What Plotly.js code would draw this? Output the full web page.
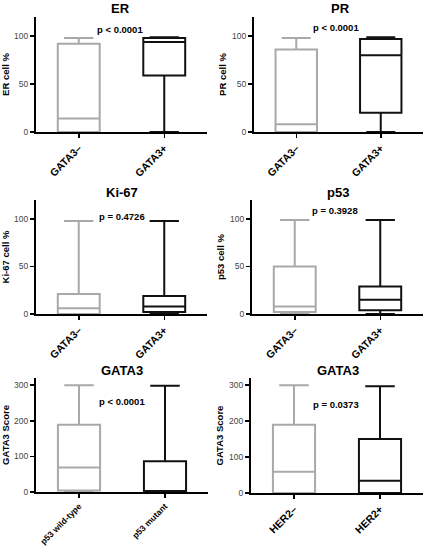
<!DOCTYPE html>
<html>
<head>
<meta charset="utf-8">
<script src="https://cdn.plot.ly/plotly-3.0.1.min.js"></script>
<style>html,body{margin:0;padding:0;background:#fff;}#chart{width:427px;height:550px;}</style>
</head>
<body>
<div id="chart"></div>
<script>
// ---- Data ----
const panelTitles = ["ER", "PR", "Ki-67", "p53", "GATA3", "GATA3"];
const yTitles = ["ER cell %", "PR cell %", "Ki-67 cell %", "p53 cell %", "GATA3 Score", "GATA3 Score"];
const pValues = ["p < 0.0001", "p < 0.0001", "p = 0.4726", "p = 0.3928", "p < 0.0001", "p = 0.0373"];

const catsGATA3 = ["GATA3–", "GATA3+"];
const catsP53 = ["p53 wild-type", "p53 mutant"];
const catsHER2 = ["HER2–", "HER2+"];

// box statistics per panel: [first group, second group]
const erMin = [0, 0],   erQ1 = [0, 59],  erMed = [14, 94],  erQ3 = [92, 98],  erMax = [98, 99];
const prMin = [0, 0],   prQ1 = [0, 20],  prMed = [8, 80],   prQ3 = [86, 97],  prMax = [98, 99];
const kiMin = [0, 0],   kiQ1 = [0, 2],   kiMed = [6, 8],    kiQ3 = [21, 19],  kiMax = [98, 98];
const p53Min = [0, 0],  p53Q1 = [2, 4],  p53Med = [8, 15],  p53Q3 = [50, 29], p53Max = [99, 99];
const gpMin = [0, 0],   gpQ1 = [4, 0],   gpMed = [69, 0],   gpQ3 = [189, 86], gpMax = [300, 298];
const ghMin = [0, 0],   ghQ1 = [0, 0],   ghMed = [59, 34],  ghQ3 = [190, 150], ghMax = [300, 297];

const pctTicks = [0, 50, 100];
const scoreTicks = [0, 100, 200, 300];
const pctRange = [0, 120];
const scoreRange = [0, 320];

// ---- Layout geometry (pixels) ----
const W = 427, H = 550;
const px = v => v / W;
const py = v => 1 - v / H;

const panels = [
  {cats: catsGATA3, min: erMin, q1: erQ1, med: erMed, q3: erQ3, max: erMax, range: pctRange, ticks: pctTicks,
   x0: 36, x1: 207, yTop: 17, yBot: 132, titleX: 121, titleY: 9, pX: 120, pY: 29, tf: 10.5},
  {cats: catsGATA3, min: prMin, q1: prQ1, med: prMed, q3: prQ3, max: prMax, range: pctRange, ticks: pctTicks,
   x0: 254, x1: 423, yTop: 17, yBot: 132, titleX: 340, titleY: 9, pX: 336, pY: 28, tf: 10.5},
  {cats: catsGATA3, min: kiMin, q1: kiQ1, med: kiMed, q3: kiQ3, max: kiMax, range: pctRange, ticks: pctTicks,
   x0: 36, x1: 207, yTop: 200, yBot: 314, titleX: 122, titleY: 193, pX: 122, pY: 216, tf: 10.5},
  {cats: catsGATA3, min: p53Min, q1: p53Q1, med: p53Med, q3: p53Q3, max: p53Max, range: pctRange, ticks: pctTicks,
   x0: 252, x1: 423, yTop: 200, yBot: 314, titleX: 338, titleY: 192, pX: 335, pY: 210, tf: 10.5},
  {cats: catsP53, min: gpMin, q1: gpQ1, med: gpMed, q3: gpQ3, max: gpMax, range: scoreRange, ticks: scoreTicks,
   x0: 36, x1: 208, yTop: 378, yBot: 492, titleX: 122, titleY: 370, pX: 122, pY: 401, tf: 8.5},
  {cats: catsHER2, min: ghMin, q1: ghQ1, med: ghMed, q3: ghQ3, max: ghMax, range: scoreRange, ticks: scoreTicks,
   x0: 251, x1: 423, yTop: 378, yBot: 493, titleX: 338, titleY: 370, pX: 336, pY: 404, tf: 10.5}
];

const colors = ["#a9a9a9", "#111111"];
const FONT = "Liberation Sans, Arial, sans-serif";

const traces = [];
const layout = {
  width: W, height: H,
  margin: {l: 0, r: 0, t: 0, b: 0},
  paper_bgcolor: "#ffffff",
  plot_bgcolor: "rgba(0,0,0,0)",
  showlegend: false,
  boxmode: "overlay",
  font: {family: FONT, color: "#000"},
  annotations: []
};

panels.forEach((p, i) => {
  const n = i + 1;
  const xa = n === 1 ? "x" : "x" + n;
  const ya = n === 1 ? "y" : "y" + n;
  for (let k = 0; k < 2; k++) {
    traces.push({
      type: "box",
      x: [p.cats[k]],
      q1: [p.q1[k]], median: [p.med[k]], q3: [p.q3[k]],
      lowerfence: [p.min[k]], upperfence: [p.max[k]],
      xaxis: xa, yaxis: ya,
      line: {color: colors[k], width: 2},
      fillcolor: "rgba(255,255,255,0)",
      whiskerwidth: 0.7,
      boxpoints: false,
      hoverinfo: "skip"
    });
  }
  const xKey = n === 1 ? "xaxis" : "xaxis" + n;
  const yKey = n === 1 ? "yaxis" : "yaxis" + n;
  layout[xKey] = {
    domain: [px(p.x0), px(p.x1)],
    anchor: ya,
    type: "category",
    categoryorder: "array", categoryarray: p.cats,
    range: [-0.5, 1.5],
    showline: true, linecolor: "#000", linewidth: 2,
    ticks: "outside", ticklen: 4, tickwidth: 1.5, tickcolor: "#000",
    tickangle: -45,
    tickfont: {family: FONT, size: p.tf, color: "#000", weight: "bold"},
    showgrid: false, zeroline: false, fixedrange: true
  };
  layout[yKey] = {
    domain: [py(p.yBot), py(p.yTop)],
    anchor: xa,
    range: p.range,
    tickvals: p.ticks,
    showline: true, linecolor: "#000", linewidth: 2,
    ticks: "outside", ticklen: 4, tickwidth: 1.5, tickcolor: "#000",
    tickfont: {family: FONT, size: 8.5, color: "#444"},
    title: {text: yTitles[i], font: {family: FONT, size: 9.5, color: "#000", weight: "bold"}, standoff: 4},
    showgrid: false, zeroline: false, fixedrange: true
  };
  layout.annotations.push({
    xref: "paper", yref: "paper", x: px(p.titleX), y: py(p.titleY),
    xanchor: "center", yanchor: "middle", showarrow: false,
    text: "<b>" + panelTitles[i] + "</b>",
    font: {family: FONT, size: 13, color: "#000"}
  });
  layout.annotations.push({
    xref: "paper", yref: "paper", x: px(p.pX), y: py(p.pY),
    xanchor: "center", yanchor: "middle", showarrow: false,
    text: "<b>" + pValues[i] + "</b>",
    font: {family: FONT, size: 9.5, color: "#000"}
  });
});

Plotly.newPlot("chart", traces, layout, {displayModeBar: false, staticPlot: true});
</script>
</body>
</html>
